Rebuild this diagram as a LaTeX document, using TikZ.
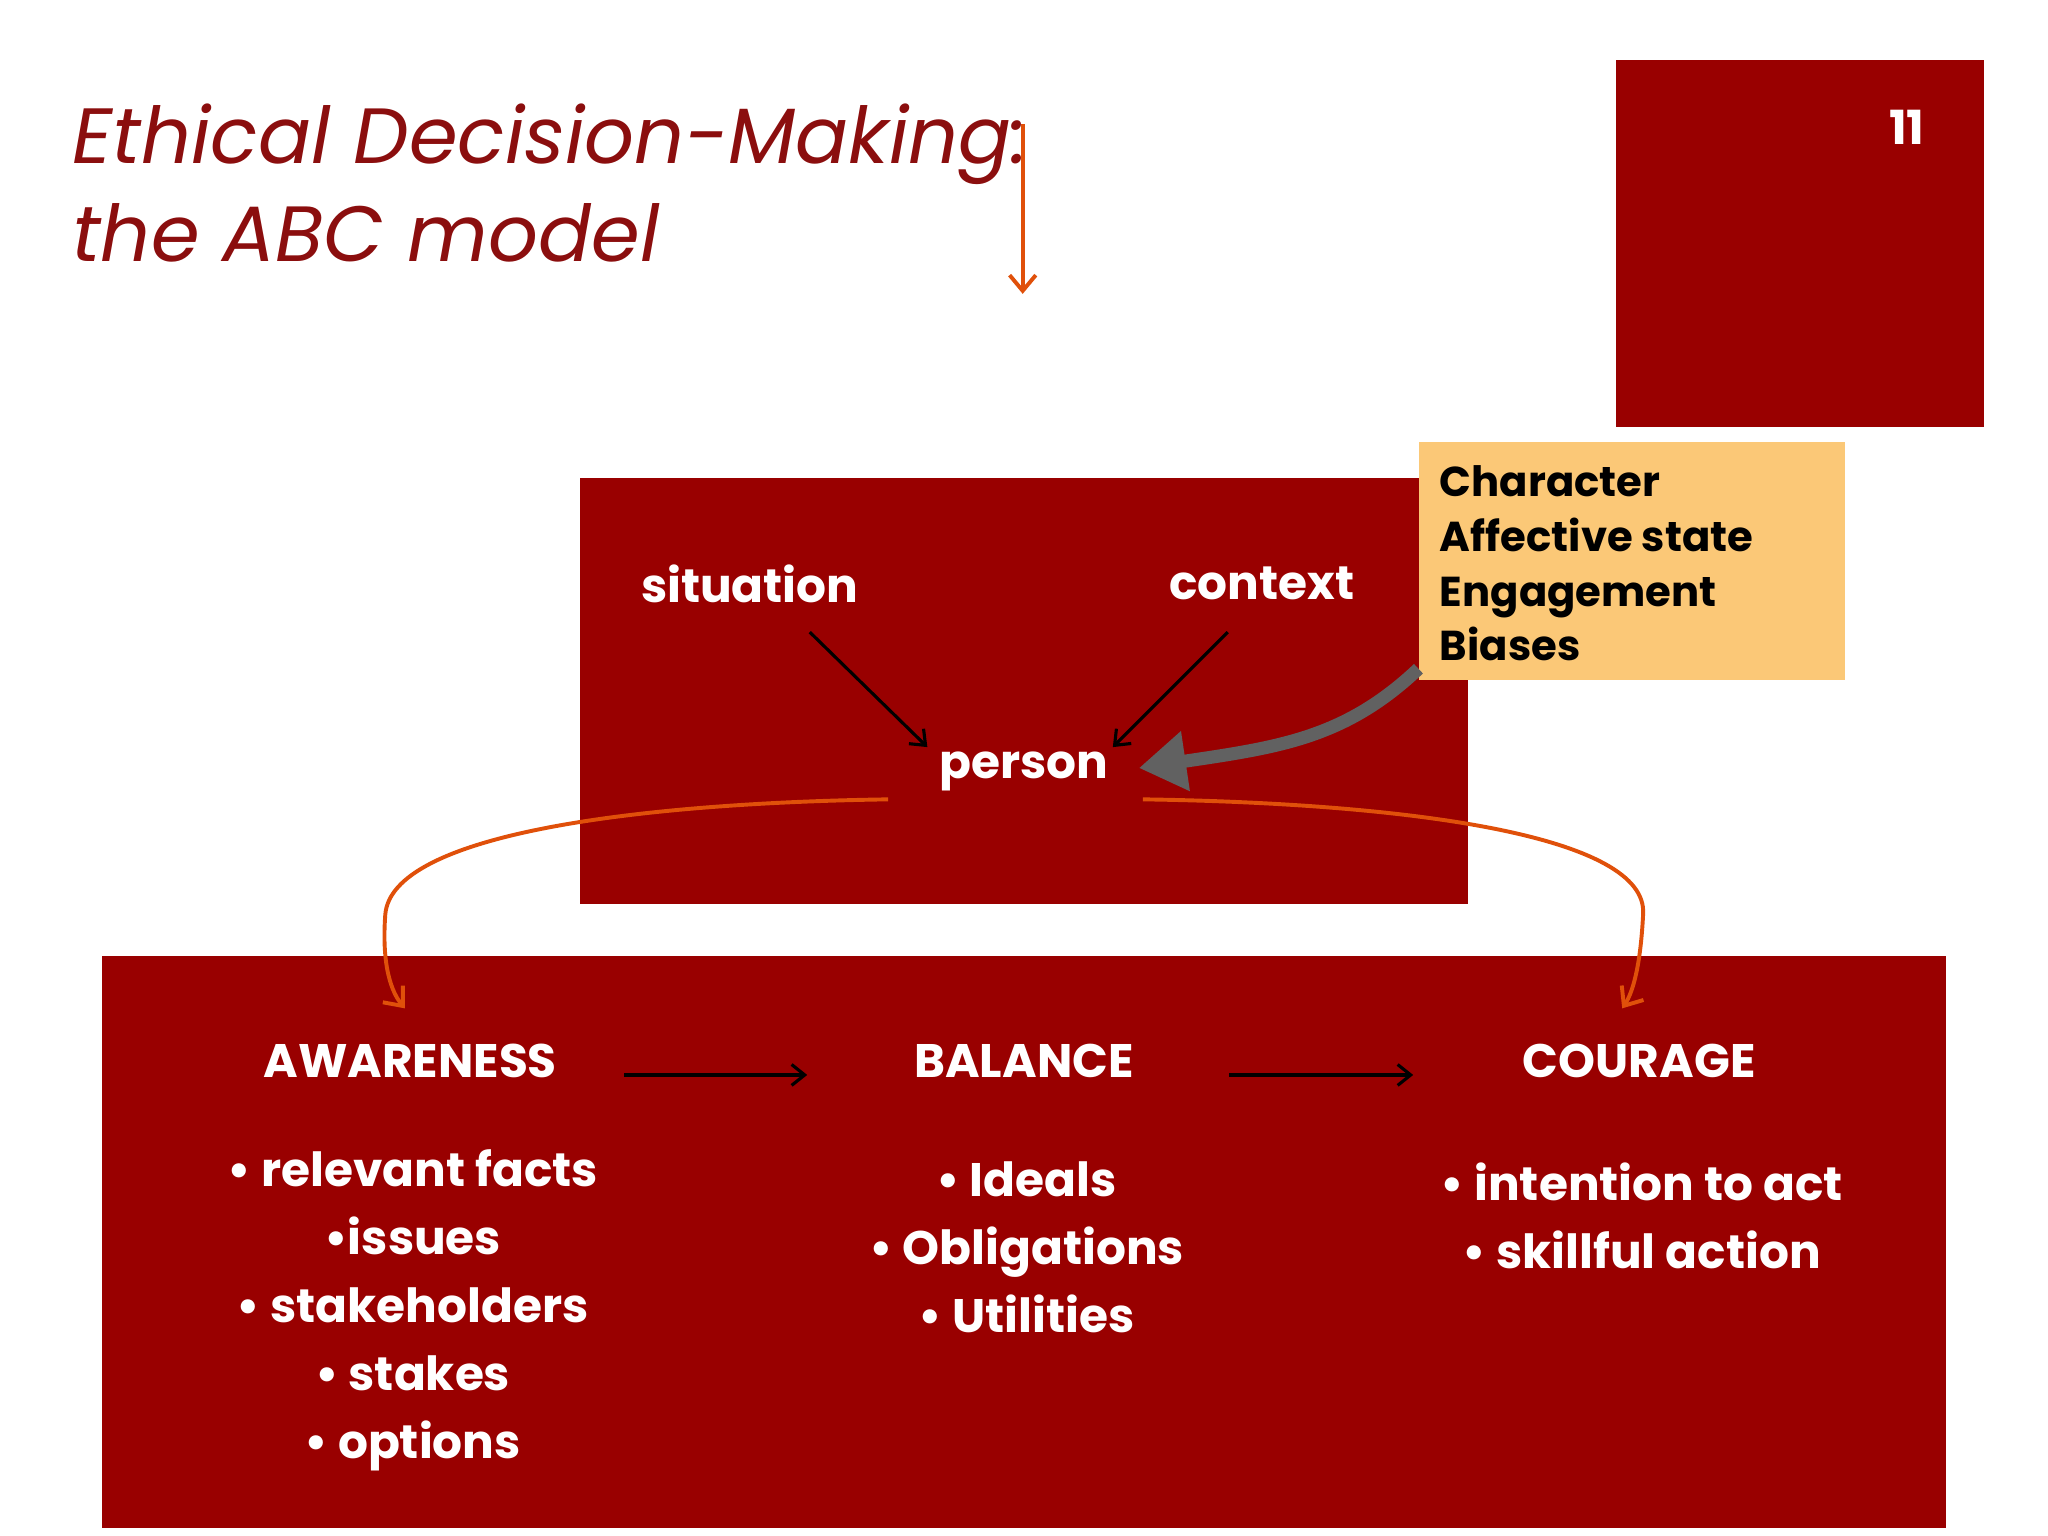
\documentclass[tikz,border=0pt]{standalone}
\usepackage{fontspec}
\setmainfont{Poppins}
\usetikzlibrary{arrows.meta}
\definecolor{dred}{HTML}{990000}
\definecolor{ttl}{HTML}{8B0E0E}
\definecolor{org}{HTML}{E0500A}
\definecolor{yel}{HTML}{FBC877}
\tikzset{
 wt/.style={text=white,font=\fontsize{18}{20}\selectfont\bfseries,inner sep=0pt},
 bx/.style={fill=dred,draw=none},
 blk/.style={-{Straight Barb[length=5pt,width=8pt]},line width=1.2pt},
 og/.style={org,line width=1.5pt},
}
\begin{document}
\begin{tikzpicture}[x=0.5pt,y=-0.5pt]
\useasboundingbox (0,0) rectangle (1568,1176);
\node[anchor=base west,text=ttl,font=\fontsize{30}{32}\selectfont\itshape,inner sep=0pt] (t1) at (55,125) {Ethical Decision-Making:};
\node[anchor=base west,text=ttl,font=\fontsize{30}{32}\selectfont\itshape,inner sep=0pt] (t2) at (55,200) {the ABC model};
\coordinate (oa) at (783,95); \coordinate (ob) at (783,225);
\draw[og,-{Straight Barb[length=6pt,width=10pt]}] (oa) -- (ob);
\fill[dred] (1237,46) rectangle (1519,327);
\node[wt,anchor=base] (n11) at (1460,111) {11};
\fill[dred] (444,366) rectangle (1124,692);
\fill[dred] (78,732) rectangle (1490,1170);
\node[fill=yel,minimum width=163pt,minimum height=91pt,anchor=north west,inner sep=0pt] (y) at (1086,338) {};
\foreach \t/\yy in {Character/380,Affective state/422,Engagement/464,Biases/506}
  \node[anchor=base west,font=\fontsize{16}{18}\selectfont\bfseries,inner sep=0pt] at (1102,\yy) {\t};
\node[wt] (sit) at (574,447) {situation};
\node[wt] (ctx) at (966,447) {context};
\node[wt] (per) at (784,591) {person};
\coordinate (s1) at (620,484); \coordinate (s2) at (710,572);
\coordinate (c1) at (940,484); \coordinate (c2) at (852,572);
\draw[blk] (s1) -- (s2);
\draw[blk] (c1) -- (c2);
\coordinate (g1) at (1086,512); \coordinate (g2) at (872,588);
\draw[color=black!62,line width=5pt,-{Triangle[length=18pt,width=22pt]}] (g1) .. controls (1030,565) and (980,572) .. (g2);
\coordinate (l0) at (680,612); \coordinate (l1) at (310,772);
\coordinate (r0) at (875,612); \coordinate (r1) at (1242,772);
\draw[og,-{Straight Barb[length=6pt,width=10pt]}] (l0) .. controls (480,615) and (300,640) .. (295,700) .. controls (292,740) and (300,760) .. (l1);
\draw[og,-{Straight Barb[length=6pt,width=10pt]}] (r0) .. controls (1080,615) and (1262,640) .. (1258,700) .. controls (1256,740) and (1250,760) .. (r1);
\node[wt] (A) at (314,812) {AWARENESS};
\node[wt] (B) at (784,812) {BALANCE};
\node[wt] (C) at (1255,812) {COURAGE};
\coordinate (a1) at (478,823); \coordinate (a2) at (618,823);
\coordinate (b1) at (941,823); \coordinate (b2) at (1082,823);
\draw[blk] (a1) -- (a2);
\draw[blk] (b1) -- (b2);
\node[wt,align=center] (la) at (316,1003) {• relevant facts\\[6pt]•issues\\[6pt]• stakeholders\\[6pt]• stakes\\[6pt]• options};
\node[wt,align=center] (lb) at (786,955) {• Ideals\\[6pt]• Obligations\\[6pt]• Utilities};
\node[wt,align=center] (lc) at (1257,931) {• intention to act\\[6pt]• skillful action};
\end{tikzpicture}
\end{document}
